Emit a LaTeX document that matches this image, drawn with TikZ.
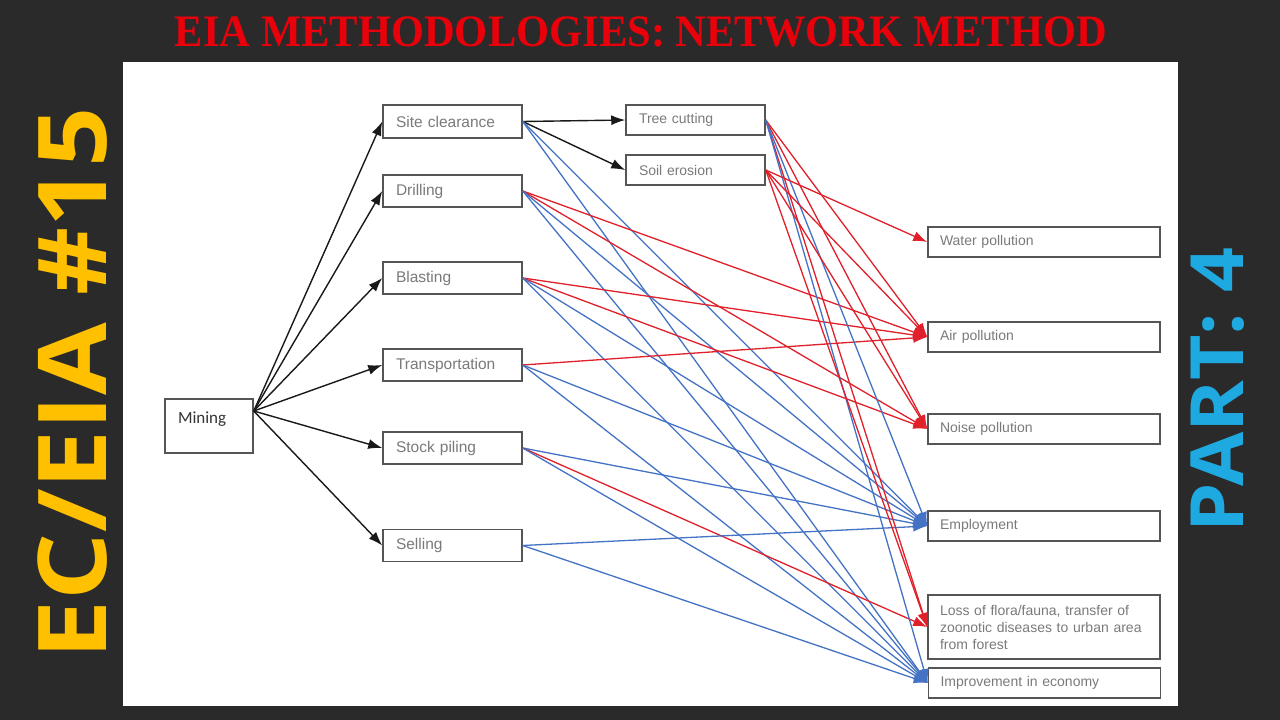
\documentclass[tikz,border=0pt]{standalone}
\usepackage{fontspec}
\setmainfont{Liberation Sans}
\newfontfamily\titlefont{Liberation Serif}
\newfontfamily\sidefont{Open Sans}
\newfontfamily\minefont{Carlito}
\usetikzlibrary{arrows.meta}
\definecolor{bgdark}{HTML}{2A2A2A}
\definecolor{titlered}{HTML}{E8000B}
\definecolor{sideyellow}{HTML}{FFC000}
\definecolor{sideblue}{HTML}{1FA9E1}
\definecolor{boxtext}{HTML}{7A7A7A}
\definecolor{boxline}{HTML}{555555}
\definecolor{linkred}{HTML}{E0202A}
\definecolor{linkblue}{HTML}{4472C4}
\tikzset{
  midbox/.style={draw=boxline, line width=1.5pt, fill=white, text=boxtext,
    minimum height=32pt, text width=113pt, inner xsep=13pt, inner ysep=0pt,
    align=left, font=\fontsize{15.5}{18}\selectfont},
  smallbox/.style={midbox, text width=113pt, minimum height=30pt, font=\fontsize{14}{17}\selectfont},
  rightbox/.style={midbox, text width=208pt, inner xsep=12pt, minimum height=30pt, font=\fontsize{14}{17}\selectfont},
  minebox/.style={draw=boxline, line width=1.5pt, fill=white, text=black!80,
    text width=62pt, inner xsep=13pt, inner ysep=0pt, text height=24pt, text depth=30pt,
    align=left, font=\minefont\fontsize{17}{20}\selectfont},
  blackarr/.style={draw=black!90, line width=1.4pt, -{Latex[length=14pt,width=10pt]}},
  redarr/.style={draw=linkred, line width=1.3pt, -{Latex[length=14pt,width=10pt]}},
  bluearr/.style={draw=linkblue, line width=1.3pt, -{Latex[length=14pt,width=10pt]}},
}
\begin{document}
\begin{tikzpicture}[x=1pt,y=-1pt]
\fill[bgdark] (0,0) rectangle (1280,720);
\useasboundingbox (0,0) rectangle (1280,720);
\fill[white] (123,62) rectangle (1178,706);

\node[text=titlered, font=\titlefont\bfseries\fontsize{45}{50}\selectfont, inner sep=0pt] (title) at (641,32) {\scalebox{0.945}[1]{EIA METHODOLOGIES: NETWORK METHOD}};
\node[text=sideyellow, rotate=90, font=\sidefont\bfseries\fontsize{95}{100}\selectfont, inner sep=0pt] (left) at (73,383) {\scalebox{1.11}[1]{EC/EIA \#15}};
\node[text=sideblue, rotate=90, font=\sidefont\bfseries\fontsize{73.5}{76}\selectfont, inner sep=0pt] (right) at (1218,390) {\scalebox{1.07}[1]{PART: 4}};

\node[minebox] (mining) at (209,426) {Mining};
\node[midbox, minimum height=33pt] (site) at (452.5,121.5) {Site clearance};
\node[midbox] (drill) at (452.5,191) {Drilling};
\node[midbox] (blast) at (452.5,278) {Blasting};
\node[midbox] (trans) at (452.5,365) {Transportation};
\node[midbox] (stock) at (452.5,448) {Stock piling};
\node[midbox] (sell) at (452.5,545.5) {Selling};
\node[smallbox] (tree) at (695.5,120) {Tree cutting};
\node[smallbox] (soil) at (695.5,170) {Soil erosion};
\node[rightbox] (water) at (1044,242) {Water pollution};
\node[rightbox] (air) at (1044,337) {Air pollution};
\node[rightbox] (noise) at (1044,429) {Noise pollution};
\node[rightbox] (emp) at (1044,526) {Employment};
\node[rightbox, minimum height=64pt] (loss) at (1044,627) {Loss of flora/fauna, transfer of zoonotic diseases to urban area from forest};
\node[rightbox] (econ) at (1044.5,683) {Improvement in economy};

\coordinate (fan) at ([yshift=15pt]mining.east);
\foreach \t in {site,drill,blast,trans,stock,sell}
  \draw[blackarr] (fan) -- (\t.west);
\draw[blackarr] (site.east) -- (tree.west);
\draw[blackarr] (site.east) -- (soil.west);

\draw[bluearr] (site.east) -- (emp.west);
\draw[bluearr] (site.east) -- (econ.west);
\draw[redarr] (drill.east) -- (air.west);
\draw[redarr] (drill.east) -- (noise.west);
\draw[bluearr] (drill.east) -- (emp.west);
\draw[bluearr] (drill.east) -- (econ.west);
\draw[redarr] (blast.east) -- (air.west);
\draw[redarr] (blast.east) -- (noise.west);
\draw[bluearr] (blast.east) -- (emp.west);
\draw[bluearr] (blast.east) -- (econ.west);
\draw[redarr] (trans.east) -- (air.west);
\draw[bluearr] (trans.east) -- (emp.west);
\draw[bluearr] (trans.east) -- (econ.west);
\draw[bluearr] (stock.east) -- (emp.west);
\draw[redarr] (stock.east) -- (loss.west);
\draw[bluearr] (stock.east) -- (econ.west);
\draw[bluearr] (sell.east) -- (emp.west);
\draw[bluearr] (sell.east) -- (econ.west);
\draw[redarr] (tree.east) -- (air.west);
\draw[redarr] (tree.east) -- (noise.west);
\draw[redarr] (tree.east) -- (loss.west);
\draw[bluearr] (tree.east) -- (emp.west);
\draw[bluearr] (tree.east) -- (econ.west);
\draw[redarr] (soil.east) -- (water.west);
\draw[redarr] (soil.east) -- (air.west);
\draw[redarr] (soil.east) -- (noise.west);
\draw[redarr] (soil.east) -- (loss.west);
\end{tikzpicture}
\end{document}
